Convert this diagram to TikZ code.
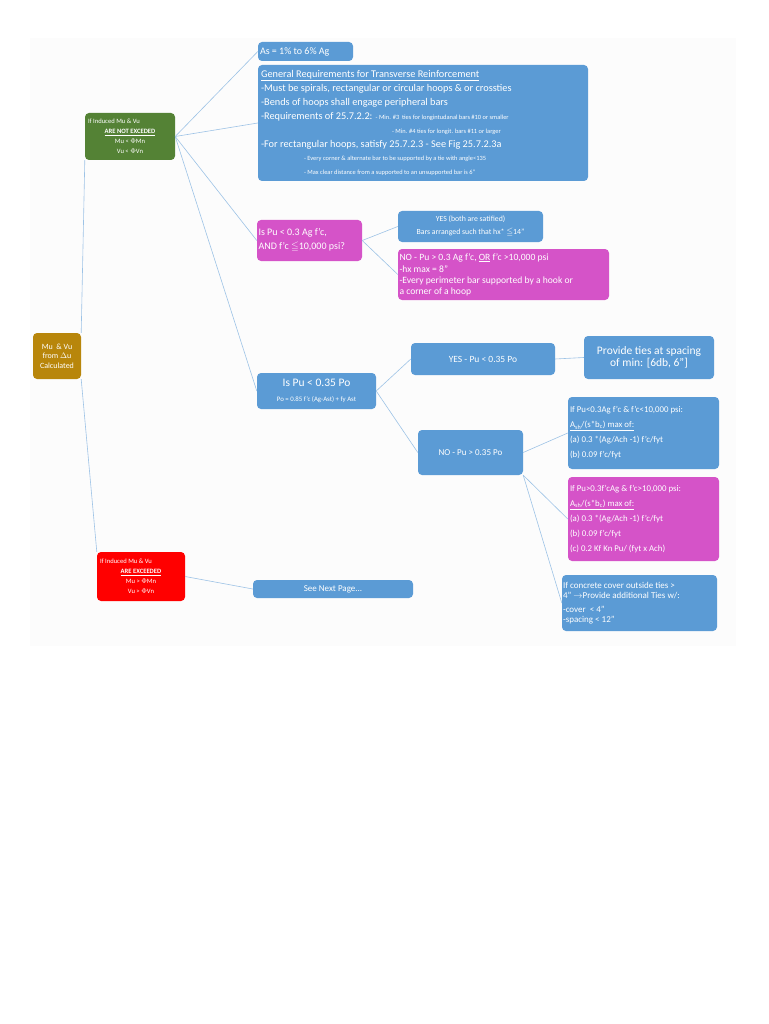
\documentclass[tikz,border=0pt]{standalone}
\usepackage{fontspec}
\setmainfont{Carlito}
\usepackage{amssymb}
\begin{document}
\begin{tikzpicture}[x=1pt,y=-1pt,
 conn/.style={draw={rgb,255:red,157;green,195;blue,230},line width=0.6pt}]
\definecolor{bl}{HTML}{5B9BD5}\definecolor{mg}{HTML}{D553C8}
\definecolor{gr}{HTML}{548235}\definecolor{ol}{HTML}{B8860B}\definecolor{rd}{HTML}{FF0000}
\useasboundingbox (0,0) rectangle (768,1024);
\fill[gray!2] (30,38) rectangle (736,646);
% \bx{name}{x1}{y1}{x2}{y2}{colour}{font}{text}
\newcommand\bx[8]{\fill[#6,rounded corners=4pt] (#2,#3) rectangle (#4,#5);
 \node[anchor=center,text=white,align=center,inner sep=0pt,font=#7] (#1) at ({(#2+#4)/2},{(#3+#5)/2}) [minimum width={#4-#2},minimum height={#5-#3}] {#8};}
\newcommand\lft[2]{\begin{minipage}{#1}\raggedright\hyphenpenalty=10000 #2\end{minipage}}
\bx{root}{33}{333}{81}{379}{ol}{\fontsize{8}{9.5}\selectfont}{Mu \ \& Vu\\from $\Delta$u\\Calculated}
\bx{grn}{85}{113}{175}{160}{gr}{\fontsize{6.6}{10}\selectfont}{\makebox[84pt][l]{If Induced Mu \& Vu}\\\underline{\textbf{ARE NOT EXCEDED}}\\Mu < $\Phi$Mn\\Vu < $\Phi$Vn}
\bx{red}{97}{552}{185}{601}{rd}{\fontsize{6.6}{10}\selectfont}{\makebox[82pt][l]{If Induced Mu \& Vu}\\\underline{\textbf{ARE EXCEEDED}}\\Mu > $\Phi$Mn\\Vu > $\Phi$Vn}
\bx{as}{258}{42}{353}{61}{bl}{\fontsize{10}{11}\selectfont}{\makebox[91pt][l]{As = 1\% to 6\% Ag}}
\bx{gen}{258}{65}{588}{181}{bl}{\fontsize{10.3}{14}\selectfont}{\lft{324pt}{%
\underline{General Requirements for Transverse Reinforcement}\\
-Must be spirals, rectangular or circular hoops \& or crossties\\
-Bends of hoops shall engage peripheral bars\\
-Requirements of 25.7.2.2: {\fontsize{6.4}{9}\selectfont - Min. \#3 \ ties for longintudanal bars \#10 or smaller}\\
\hspace*{131pt}{\fontsize{6.4}{9}\selectfont - Min. \#4 ties for longit. bars \#11 or larger}\\
-For rectangular hoops, satisfy 25.7.2.3 - See Fig 25.7.2.3a\\[-1pt]
\hspace*{43pt}{\fontsize{6.4}{11}\selectfont - Every corner \& alternate bar to be supported by a tie with angle<135}\\
\hspace*{43pt}{\fontsize{6.4}{11}\selectfont - Max clear distance from a supported to an unsupported bar is 6"}}}
\bx{q1}{257}{220}{362}{261}{mg}{\fontsize{10}{14}\selectfont}{\lft{102pt}{Is Pu < 0.3 Ag f'c,\\AND f'c $\leqq$10,000 psi?}}
\bx{y1}{398}{211}{543}{242}{bl}{\fontsize{7.8}{13.5}\selectfont}{YES (both are satified)\\Bars arranged such that hx* $\leqq$14"}
\bx{n1}{398}{249}{609}{300}{mg}{\fontsize{9.6}{11}\selectfont}{\lft{208pt}{NO - Pu > 0.3 Ag f'c, \underline{OR} f'c >10,000 psi\\[1pt]-hx max = 8"\\-Every perimeter bar supported by a hook or\\a corner of a hoop}}
\bx{q2}{257}{373}{376}{409}{bl}{\fontsize{11.5}{13}\selectfont}{Is Pu < 0.35 Po\\[2pt]{\fontsize{6.8}{7}\selectfont Po = 0.85 f'c (Ag-Ast) + fy Ast}}
\bx{y2}{411}{343}{555}{375}{bl}{\fontsize{9.5}{11}\selectfont}{YES - Pu < 0.35 Po}
\bx{pt}{584}{336}{714}{379}{bl}{\fontsize{11.5}{12.5}\selectfont}{Provide ties at spacing\\of min: [6db, 6"]}
\bx{n2}{418}{430}{523}{475}{bl}{\fontsize{9}{10}\selectfont}{NO - Pu > 0.35 Po}
\bx{c1}{568}{397}{719}{469}{bl}{\fontsize{8.8}{15}\selectfont}{\lft{147pt}{If Pu<0.3Ag f'c \& f'c<10,000 psi:\\ \underline{A\textsubscript{sh}/(s*b\textsubscript{c}) max of:}\\(a) 0.3 *(Ag/Ach -1) f'c/fyt\\(b) 0.09 f'c/fyt}}
\bx{c2}{568}{477}{719}{561}{mg}{\fontsize{8.8}{15}\selectfont}{\lft{147pt}{If Pu>0.3f'cAg \& f'c>10,000 psi:\\\underline{A\textsubscript{sh}/(s*b\textsubscript{c}) max of:}\\(a) 0.3 *(Ag/Ach -1) f'c/fyt\\(b) 0.09 f'c/fyt\\(c) 0.2 Kf Kn Pu/ (fyt x Ach)}}
\bx{c3}{562}{575}{717}{631}{bl}{\fontsize{9}{13}\selectfont}{\lft{153pt}{\baselineskip=10.5pt If concrete cover outside ties >\\4" $\rightarrow$Provide additional Ties w/:\\[3pt]-cover \ < 4"\\-spacing < 12"}}
\bx{snp}{253}{580}{413}{598}{bl}{\fontsize{9}{10}\selectfont}{See Next Page...}
% connectors
\draw[conn] (root.north east) -- (grn.south west);
\draw[conn] (root.south east) -- (red.north west);
\foreach \t in {as,gen,q1,q2} \draw[conn] (grn.east) -- (\t.west);
\draw[conn] (red.east) -- (snp.west);
\draw[conn] (q1.east) -- (y1.west); \draw[conn] (q1.east) -- (n1.west);
\draw[conn] (q2.east) -- (y2.west); \draw[conn] (q2.east) -- (n2.west);
\draw[conn] (y2.east) -- (pt.west);
\draw[conn] (n2.east) -- (c1.west);
\draw[conn] (n2.south east) -- (c2.west);
\draw[conn] (n2.south east) -- (c3.west);
\end{tikzpicture}
\end{document}
